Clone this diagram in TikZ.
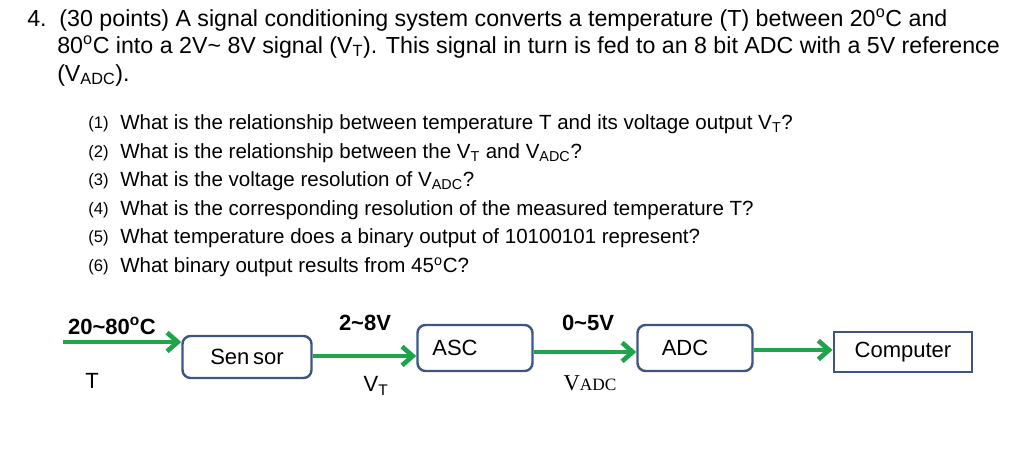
\documentclass[tikz,border=0pt]{standalone}
\usepackage{fontspec}
\setmainfont{Liberation Sans}
\newfontfamily\serf{Liberation Serif}
\usetikzlibrary{arrows.meta}
\definecolor{gr}{RGB}{30,165,75}
\definecolor{bx}{RGB}{60,85,130}
\begin{document}
\begin{tikzpicture}[x=0.75pt,y=-0.75pt,
  txt/.style={anchor=west,inner sep=0pt,font=\fontsize{17.4}{20}\selectfont},
  q/.style={anchor=west,inner sep=0pt,font=\fontsize{15.4}{18}\selectfont},
  num/.style={anchor=west,inner sep=0pt,font=\fontsize{12.5}{14}\selectfont},
  blk/.style={draw=bx,line width=1.8pt,rounded corners=6pt,font=\fontsize{16.5}{18}\selectfont},
  comp/.style={draw=bx,line width=2.2pt,font=\fontsize{16.5}{18}\selectfont},
  arr/.style={draw=gr,line width=3.5pt,-{Straight Barb[length=8pt,width=14pt]}},
  lbl/.style={inner sep=0pt,font=\bfseries\fontsize{16.5}{19}\selectfont}]
\useasboundingbox (0,0) rectangle (1024,474);
\node[txt] (l1) at (27,20) {4.\ \ (30 points) A signal conditioning system converts a temperature (T) between 20\textsuperscript{o}C and};
\node[txt] (l2) at (57,47) {80\textsuperscript{o}C into a 2V\textasciitilde\ 8V signal (V\textsubscript{T}). This signal in turn is fed to an 8 bit ADC with a 5V reference};
\node[txt] (l3) at (57,75) {(V\textsubscript{ADC}).};
\foreach \i/\y/\t in {1/124/{What is the relationship between temperature T and its voltage output V\textsubscript{T}?},
 2/153/{What is the relationship between the V\textsubscript{T} and V\textsubscript{ADC}?},
 3/181/{What is the voltage resolution of V\textsubscript{ADC}?},
 4/210/{What is the corresponding resolution of the measured temperature T?},
 5/238/{What temperature does a binary output of 10100101 represent?},
 6/267/{What binary output results from 45\textsuperscript{o}C?}}{
 \node[num] (n\i) at (88,\y) {(\i)};
 \node[q] (q\i) at (120,\y) {\t};
}
\node[blk,minimum width=96.75pt,minimum height=31.5pt] (sen) at (247,357) {Sen\,sor};
\node[blk,minimum width=86.25pt,minimum height=34.5pt] (asc) at (475,348) {\hspace*{-30pt}ASC};
\node[blk,minimum width=86.25pt,minimum height=34.5pt] (adc) at (695,348) {\hspace*{-15pt}ADC};
\node[comp,minimum width=103.5pt,minimum height=30pt] (cmp) at (903,352) {Computer};
\coordinate (s) at (63,342);
\draw[arr] (s) -- (sen.west |- s);
\draw[arr] (sen.east |- 0,356) -- (asc.west |- 0,356);
\draw[arr] (asc.east |- 0,352) -- (adc.west |- 0,352);
\draw[arr] (adc.east |- 0,350) -- (cmp.west |- 0,350);
\node[lbl] (a) at (112,326) {20\textasciitilde80\textsuperscript{o}C};
\node[inner sep=0pt,font=\fontsize{16.5}{18}\selectfont] (b) at (92,381) {T};
\node[lbl] (c) at (365,323) {2\textasciitilde8V};
\node[inner sep=0pt,font=\fontsize{16.5}{18}\selectfont] (d) at (376,386) {V\textsubscript{T}};
\node[lbl] (e) at (588,323) {0\textasciitilde5V};
\node[inner sep=0pt,font=\serf\fontsize{17}{18}\selectfont] (f) at (590,383) {V{\fontsize{13}{14}\selectfont ADC}};
\end{tikzpicture}
\end{document}
